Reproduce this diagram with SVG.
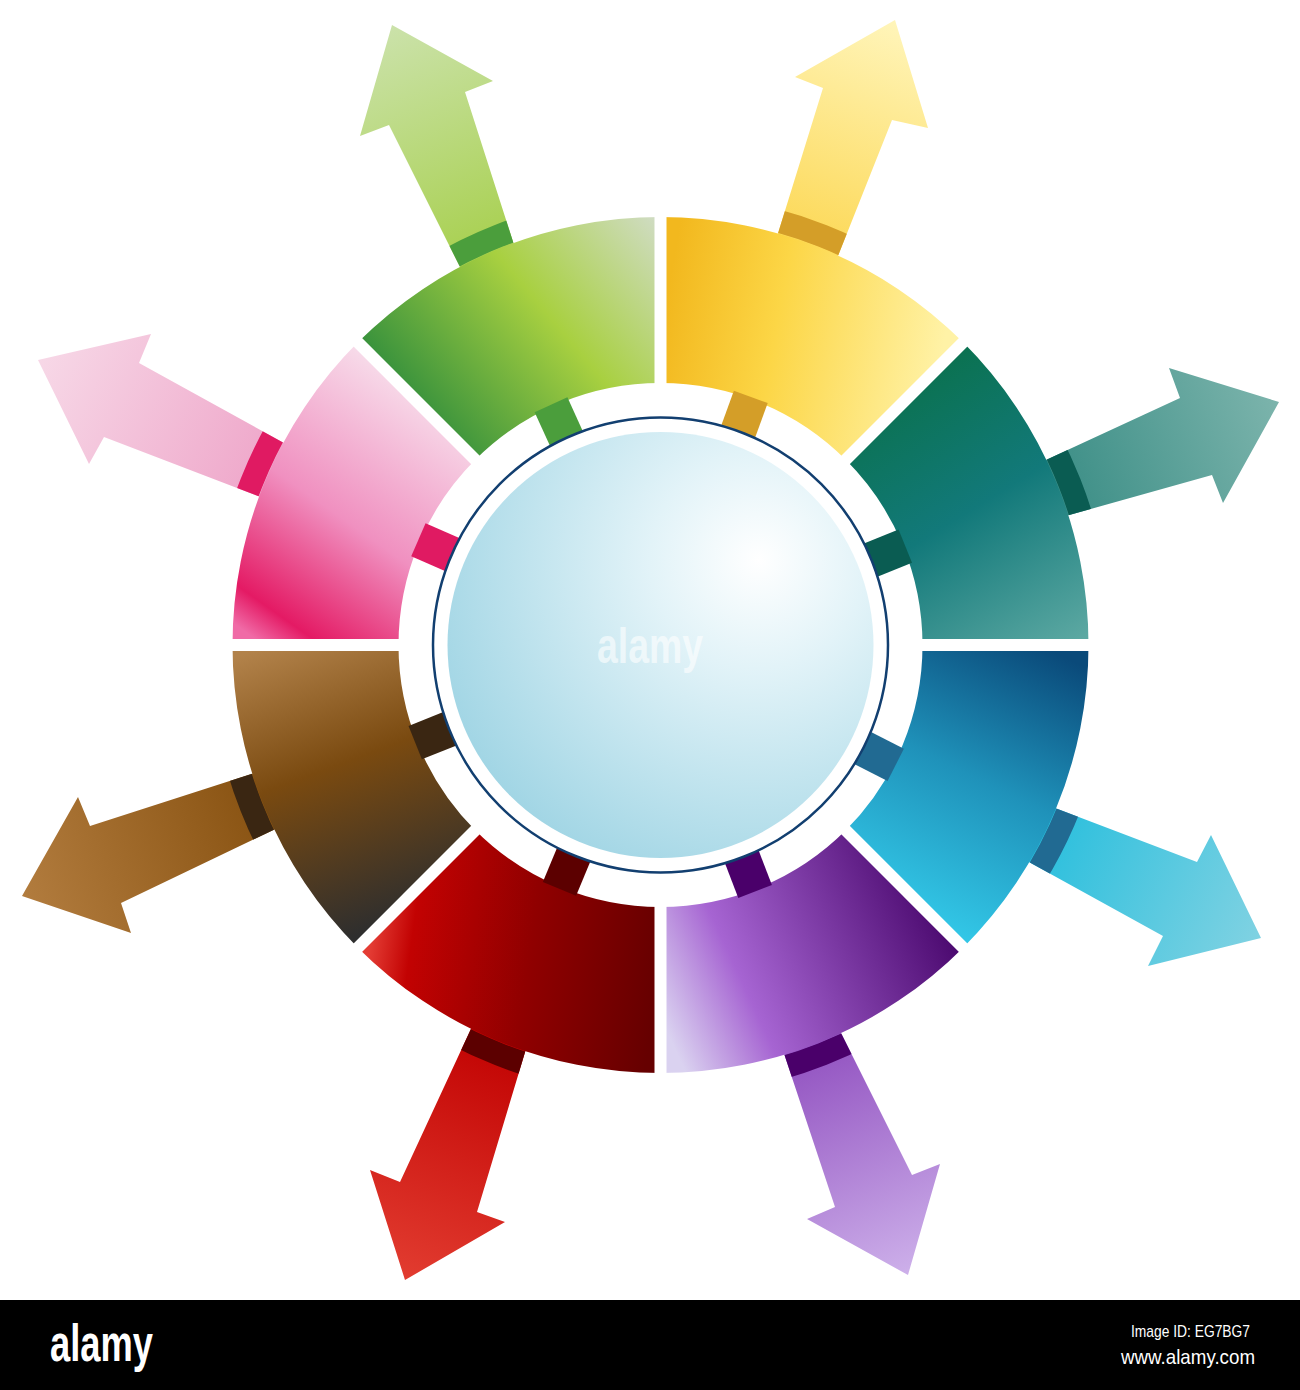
<svg xmlns="http://www.w3.org/2000/svg" xmlns:xlink="http://www.w3.org/1999/xlink" width="1300" height="1390" viewBox="0 0 1300 1390">
<style>
.band{fill:none;stroke-width:23}
.gap{stroke:#fff;stroke-width:12}
.wm{font-family:"Liberation Sans","DejaVu Sans",sans-serif;font-weight:bold;fill:#fff}
.foot{font-family:"Liberation Sans","DejaVu Sans",sans-serif;fill:#fff}
</style>
<defs>
<polygon id="aG" points="392,25 493,81 465,92 517,254 465,277 389,125 360,136"/>
<polygon id="aY" points="895,20 928,128 892,120 834,266 775,243 823,88 795,77"/>
<polygon id="aP" points="38,360 151,334 139,363 293,448 271,501 104,437 89,464"/>
<polygon id="aB" points="22,896 78,797 90,826 264,770 286,824 121,903 131,933"/>
<polygon id="aR" points="405,1280 370,1170 400,1182 476,1018 529,1039 477,1212 505,1222"/>
<polygon id="aV" points="908,1275 940,1164 912,1175 835,1021 780.5,1043 835,1207 807,1219"/>
<polygon id="aC" points="1261,938 1211,835 1197,862 1044.5,804 1018,856 1163,936 1148,966"/>
<polygon id="aT" points="1279,402 1169,368 1180,398 1034,465.5 1055,519 1212,475 1223,503"/>
<clipPath id="cG"><use href="#aG"/></clipPath>
<clipPath id="cY"><use href="#aY"/></clipPath>
<clipPath id="cP"><use href="#aP"/></clipPath>
<clipPath id="cB"><use href="#aB"/></clipPath>
<clipPath id="cR"><use href="#aR"/></clipPath>
<clipPath id="cV"><use href="#aV"/></clipPath>
<clipPath id="cC"><use href="#aC"/></clipPath>
<clipPath id="cT"><use href="#aT"/></clipPath>
<linearGradient id="gaG" gradientUnits="userSpaceOnUse" x1="392" y1="25" x2="491" y2="266"><stop offset="0" stop-color="#cbe2aa"/><stop offset="1" stop-color="#a6cf4a"/></linearGradient>
<linearGradient id="gaY" gradientUnits="userSpaceOnUse" x1="895" y1="20" x2="804" y2="255"><stop offset="0" stop-color="#fff5ba"/><stop offset="1" stop-color="#fcd752"/></linearGradient>
<linearGradient id="gaP" gradientUnits="userSpaceOnUse" x1="38" y1="360" x2="282" y2="475"><stop offset="0" stop-color="#f7d8e7"/><stop offset="1" stop-color="#eea4c8"/></linearGradient>
<linearGradient id="gaB" gradientUnits="userSpaceOnUse" x1="22" y1="896" x2="275" y2="797"><stop offset="0" stop-color="#b27c3e"/><stop offset="1" stop-color="#86500f"/></linearGradient>
<linearGradient id="gaR" gradientUnits="userSpaceOnUse" x1="405" y1="1280" x2="502" y2="1028"><stop offset="0" stop-color="#e23c30"/><stop offset="1" stop-color="#c00000"/></linearGradient>
<linearGradient id="gaV" gradientUnits="userSpaceOnUse" x1="908" y1="1275" x2="808" y2="1032"><stop offset="0" stop-color="#cdb0ea"/><stop offset="1" stop-color="#8e4cbe"/></linearGradient>
<linearGradient id="gaC" gradientUnits="userSpaceOnUse" x1="1261" y1="938" x2="1031" y2="830"><stop offset="0" stop-color="#80d2e2"/><stop offset="1" stop-color="#26bedd"/></linearGradient>
<linearGradient id="gaT" gradientUnits="userSpaceOnUse" x1="1279" y1="402" x2="1044" y2="490"><stop offset="0" stop-color="#7cb4ac"/><stop offset="1" stop-color="#388c84"/></linearGradient>
<linearGradient id="gsG" gradientUnits="userSpaceOnUse" x1="410" y1="430" x2="660" y2="220"><stop offset="0" stop-color="#2a8a3c"/><stop offset="0.55" stop-color="#a8d040"/><stop offset="1" stop-color="#d0dcc4"/></linearGradient>
<linearGradient id="gsY" gradientUnits="userSpaceOnUse" x1="668" y1="290" x2="945" y2="340"><stop offset="0" stop-color="#f2b81e"/><stop offset="0.4" stop-color="#fcd646"/><stop offset="1" stop-color="#fff2a6"/></linearGradient>
<linearGradient id="gsT" gradientUnits="userSpaceOnUse" x1="920" y1="380" x2="1080" y2="640"><stop offset="0" stop-color="#0b7252"/><stop offset="0.45" stop-color="#12797a"/><stop offset="1" stop-color="#5ca8a2"/></linearGradient>
<linearGradient id="gsC" gradientUnits="userSpaceOnUse" x1="1060" y1="655" x2="930" y2="920"><stop offset="0" stop-color="#0a4a7a"/><stop offset="0.5" stop-color="#1f92ba"/><stop offset="1" stop-color="#32c6e6"/></linearGradient>
<linearGradient id="gsV" gradientUnits="userSpaceOnUse" x1="680" y1="1060" x2="950" y2="935"><stop offset="0" stop-color="#dad2f0"/><stop offset="0.3" stop-color="#a664d2"/><stop offset="1" stop-color="#4c0a70"/></linearGradient>
<linearGradient id="gsR" gradientUnits="userSpaceOnUse" x1="368" y1="960" x2="655" y2="1000"><stop offset="0" stop-color="#e43c34"/><stop offset="0.14" stop-color="#c20202"/><stop offset="0.55" stop-color="#900000"/><stop offset="1" stop-color="#660000"/></linearGradient>
<linearGradient id="gsB" gradientUnits="userSpaceOnUse" x1="255" y1="650" x2="360" y2="935"><stop offset="0" stop-color="#b2824a"/><stop offset="0.45" stop-color="#7a4a10"/><stop offset="1" stop-color="#2e2e2e"/></linearGradient>
<linearGradient id="gsP" gradientUnits="userSpaceOnUse" x1="440" y1="365" x2="250" y2="635"><stop offset="0" stop-color="#f9ecf3"/><stop offset="0.55" stop-color="#f090c0"/><stop offset="0.9" stop-color="#e41a64"/><stop offset="1" stop-color="#f06aa6"/></linearGradient>
<radialGradient id="gHub" cx="0.73" cy="0.3" r="0.85"><stop offset="0" stop-color="#ffffff"/><stop offset="0.3" stop-color="#e2f3f8"/><stop offset="1" stop-color="#9cd3e3"/></radialGradient>
</defs>
<rect width="1300" height="1390" fill="#fff"/>
<g id="connectors">
<g id="arrow-teal"><use href="#aT" fill="url(#gaT)"/><circle clip-path="url(#cT)" class="band" cx="660.5" cy="645" r="440" stroke="#0a5c52"/></g>
<g id="arrow-yellow"><use href="#aY" fill="url(#gaY)"/><circle clip-path="url(#cY)" class="band" cx="660.5" cy="645" r="440" stroke="#d49e28"/></g>
<g id="arrow-green"><use href="#aG" fill="url(#gaG)"/><circle clip-path="url(#cG)" class="band" cx="660.5" cy="645" r="440" stroke="#4b9e3c"/></g>
<g id="arrow-pink"><use href="#aP" fill="url(#gaP)"/><circle clip-path="url(#cP)" class="band" cx="660.5" cy="645" r="440" stroke="#e01a62"/></g>
<g id="arrow-brown"><use href="#aB" fill="url(#gaB)"/><circle clip-path="url(#cB)" class="band" cx="660.5" cy="645" r="440" stroke="#3a2612"/></g>
<g id="arrow-red"><use href="#aR" fill="url(#gaR)"/><circle clip-path="url(#cR)" class="band" cx="660.5" cy="645" r="440" stroke="#5c0000"/></g>
<g id="arrow-purple"><use href="#aV" fill="url(#gaV)"/><circle clip-path="url(#cV)" class="band" cx="660.5" cy="645" r="440" stroke="#4a006a"/></g>
<g id="arrow-cyan"><use href="#aC" fill="url(#gaC)"/><circle clip-path="url(#cC)" class="band" cx="660.5" cy="645" r="440" stroke="#216a92"/></g>
</g>
<g id="node-teal"><path d="M1088.5,645 A428,428 0 0 0 963.14,342.36 L845.76,459.74 A262,262 0 0 1 922.5,645 Z" fill="url(#gsT)"/><rect x="226" y="-18" width="38" height="36" fill="#0a5c52" transform="translate(660.5,645) rotate(-22)"/></g>
<g id="node-yellow"><path d="M963.14,342.36 A428,428 0 0 0 660.5,217 L660.5,383 A262,262 0 0 1 845.76,459.74 Z" fill="url(#gsY)"/><rect x="226" y="-18" width="38" height="36" fill="#d49e28" transform="translate(660.5,645) rotate(-70)"/></g>
<g id="node-green"><path d="M660.5,217 A428,428 0 0 0 357.86,342.36 L475.24,459.74 A262,262 0 0 1 660.5,383 Z" fill="url(#gsG)"/><rect x="226" y="-18" width="38" height="36" fill="#4b9e3c" transform="translate(660.5,645) rotate(-114.5)"/></g>
<g id="node-pink"><path d="M357.86,342.36 A428,428 0 0 0 232.5,645 L398.5,645 A262,262 0 0 1 475.24,459.74 Z" fill="url(#gsP)"/><rect x="226" y="-18" width="38" height="36" fill="#e01a62" transform="translate(660.5,645) rotate(-156.5)"/></g>
<g id="node-brown"><path d="M232.5,645 A428,428 0 0 0 357.86,947.64 L475.24,830.26 A262,262 0 0 1 398.5,645 Z" fill="url(#gsB)"/><rect x="226" y="-18" width="38" height="36" fill="#3a2612" transform="translate(660.5,645) rotate(-201.7)"/></g>
<g id="node-red"><path d="M357.86,947.64 A428,428 0 0 0 660.5,1073 L660.5,907 A262,262 0 0 1 475.24,830.26 Z" fill="url(#gsR)"/><rect x="226" y="-18" width="38" height="36" fill="#5c0000" transform="translate(660.5,645) rotate(-247.5)"/></g>
<g id="node-purple"><path d="M660.5,1073 A428,428 0 0 0 963.14,947.64 L845.76,830.26 A262,262 0 0 1 660.5,907 Z" fill="url(#gsV)"/><rect x="226" y="-18" width="38" height="36" fill="#4a006a" transform="translate(660.5,645) rotate(-291)"/></g>
<g id="node-cyan"><path d="M963.14,947.64 A428,428 0 0 0 1088.5,645 L922.5,645 A262,262 0 0 1 845.76,830.26 Z" fill="url(#gsC)"/><rect x="226" y="-18" width="38" height="36" fill="#216a92" transform="translate(660.5,645) rotate(-333)"/></g>
<g id="gaps">
<line class="gap" x1="215" y1="645" x2="1106" y2="645"/>
<line class="gap" x1="660.5" y1="200" x2="660.5" y2="1090"/>
<line class="gap" x1="345.8" y1="959.7" x2="975.2" y2="330.3"/>
<line class="gap" x1="345.8" y1="330.3" x2="975.2" y2="959.7"/>
</g>
<g id="hub">
<circle cx="660.5" cy="645" r="227.5" fill="#fff" stroke="#123f70" stroke-width="2.5"/>
<circle cx="660.5" cy="645" r="213" fill="url(#gHub)"/>
<text class="wm" x="597" y="663" font-size="50" textLength="106" lengthAdjust="spacingAndGlyphs" fill-opacity="0.6">alamy</text>
</g>
<g id="footer">
<rect x="0" y="1300" width="1300" height="90" fill="#000"/>
<text class="foot" x="50" y="1361" font-size="52" font-weight="bold" textLength="103" lengthAdjust="spacingAndGlyphs">alamy</text>
<text class="foot" x="1250" y="1337" font-size="17" text-anchor="end" textLength="119" lengthAdjust="spacingAndGlyphs">Image ID: EG7BG7</text>
<text class="foot" x="1255" y="1364" font-size="21" text-anchor="end" textLength="134" lengthAdjust="spacingAndGlyphs">www.alamy.com</text>
</g>
</svg>
